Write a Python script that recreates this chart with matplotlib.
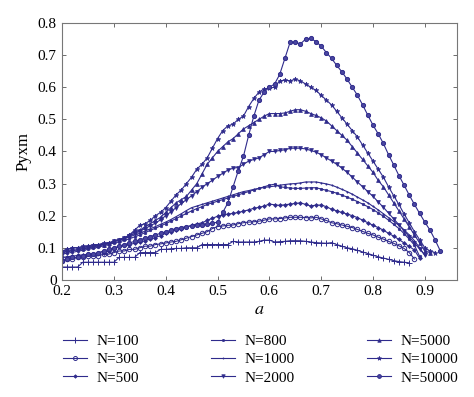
import numpy as np
import matplotlib
matplotlib.use("Agg")
import matplotlib.pyplot as plt

plt.rcParams['font.family'] = ['Liberation Serif', 'DejaVu Serif']
plt.rcParams['mathtext.fontset'] = 'stix'

x_start = 0.20
x_step = 0.01

n100 = [.04, .04, .04, .04, .055, .055, .055, .055, .055, .055, .055,
        .07, .07, .07, .07, .085, .085, .085, .085, .095, .095, .097, .098, .098,
        .10, .10, .10, .11, .11, .11, .11, .11, .11, .12, .118, .118, .118, .118,
        .12, .124, .124, .118, .119, .12, .122, .122, .122, .12, .118, .116, .115,
        .114, .116, .11, .105, .10, .097, .092, .087, .082, .077, .072, .068, .064,
        .06, .057, .055, .053]
n300 = [.06, .065, .065, .07, .07, .075, .075, .075, .08, .08, .085, .09, .09, .095,
        .095, .10, .105, .105, .11, .112, .115, .118, .12, .125, .13, .135, .14, .145,
        .15, .16, .166, .168, .17, .171, .175, .178, .18, .181, .183, .186, .19, .19,
        .191, .193, .195, .195, .195, .194, .193, .195, .19, .185, .178, .175, .171,
        .167, .163, .157, .151, .145, .14, .133, .127, .12, .114, .106, .098, .085, .065]
n500 = [.07, .072, .074, .076, .078, .08, .082, .083, .085, .09, .095, .105, .108, .11,
        .114, .118, .122, .127, .132, .138, .145, .15, .155, .16, .165, .17, .174, .178,
        .185, .192, .198, .202, .205, .207, .21, .214, .218, .223, .226, .23, .236, .234,
        .232, .234, .236, .238, .24, .235, .23, .233, .233, .228, .22, .215, .21, .205,
        .2, .194, .186, .178, .17, .163, .155, .145, .136, .126, .115, .104, .093, .067]
n800 = [.08, .083, .086, .089, .092, .095, .098, .102, .106, .11, .115, .119, .123, .128,
        .134, .14, .147, .154, .161, .168, .175, .183, .191, .199, .207, .215, .222, .228,
        .235, .24, .245, .25, .255, .26, .265, .27, .275, .28, .285, .29, .295, .298, .29,
        .288, .286, .285, .285, .286, .287, .287, .283, .279, .275, .27, .264, .258, .251,
        .244, .236, .228, .219, .209, .198, .186, .173, .16, .144, .127, .108, .073]
n1000 = [.085, .088, .091, .094, .097, .1, .103, .107, .111, .115, .12, .124, .128, .134,
         .14, .145, .152, .159, .166, .173, .18, .188, .197, .206, .216, .225, .23, .235,
         .24, .245, .25, .255, .26, .265, .27, .275, .278, .282, .285, .288, .29, .292,
         .295, .297, .299, .30, .302, .305, .305, .305, .302, .299, .295, .289, .282, .275,
         .267, .258, .249, .24, .229, .218, .206, .194, .182, .17, .156, .14, .122, .1, .076]
n2000 = [.085, .088, .091, .094, .097, .1, .103, .106, .109, .113, .12, .125, .13, .137,
         .145, .152, .16, .168, .177, .187, .2, .212, .225, .238, .25, .262, .275, .288,
         .3, .31, .322, .332, .342, .348, .35, .36, .37, .375, .38, .39, .40, .40, .403,
         .405, .41, .41, .41, .408, .403, .398, .39, .38, .37, .36, .348, .335, .32, .305,
         .29, .275, .26, .243, .226, .208, .19, .172, .153, .134, .115, .096, .078]
n5000 = [.09, .095, .1, .1, .1, .105, .105, .11, .11, .115, .12, .125, .13, .14, .15,
         .155, .165, .175, .185, .195, .21, .225, .24, .25, .26, .28, .3, .33, .36, .38,
         .40, .415, .43, .44, .455, .47, .48, .49, .5, .51, .518, .518, .518, .52, .525,
         .53, .53, .525, .518, .512, .505, .495, .48, .465, .45, .435, .415, .395, .375,
         .355, .335, .31, .29, .265, .24, .215, .19, .165, .14, .115, .09, .085]
n10000 = [.09, .095, .1, .1, .105, .105, .11, .11, .115, .115, .12, .125, .13, .14, .155,
          .17, .175, .185, .2, .21, .225, .245, .265, .28, .3, .32, .345, .36, .38, .41,
          .44, .465, .48, .485, .5, .51, .54, .565, .585, .595, .597, .6, .62, .622, .62,
          .625, .62, .61, .6, .59, .575, .56, .545, .525, .505, .485, .465, .445, .42,
          .395, .37, .345, .32, .29, .262, .235, .205, .178, .15, .125, .1, .09, .085]
n50000 = [.06, .065, .07, .07, .075, .08, .08, .085, .09, .095, .1, .105, .11, .115, .12,
          .125, .13, .135, .14, .145, .15, .155, .16, .163, .166, .168, .17, .172, .174,
          .176, .18, .21, .24, .29, .34, .385, .45, .51, .56, .585, .6, .61, .64, .69, .74,
          .74, .735, .75, .752, .742, .728, .708, .69, .668, .648, .625, .6, .575, .545,
          .513, .482, .455, .425, .39, .358, .325, .295, .264, .235, .207, .18, .155, .124, .09]

labels = ['N=100', 'N=300', 'N=500', 'N=800', 'N=1000', 'N=2000',
          'N=5000', 'N=10000', 'N=50000']
series = [n100, n300, n500, n800, n1000, n2000, n5000, n10000, n50000]
x_ticks = [0.2, 0.3, 0.4, 0.5, 0.6, 0.7, 0.8, 0.9]
y_ticks = [0, 0.1, 0.2, 0.3, 0.4, 0.5, 0.6, 0.7, 0.8]

color = '#2f2b8c'
styles = [
    dict(marker='+', ms=4.5, mfc=color, mew=0.7),
    dict(marker='o', ms=3.2, mfc='none', mew=0.7),
    dict(marker='D', ms=2.0, mfc=color, mew=0.5),
    dict(marker='o', ms=1.8, mfc=color, mew=0.5),
    dict(marker='.', ms=2.0, mfc=color, mew=0.4),
    dict(marker='v', ms=2.8, mfc=color, mew=0.5),
    dict(marker='^', ms=2.8, mfc=color, mew=0.5),
    dict(marker='*', ms=3.5, mfc=color, mew=0.5),
    dict(marker='o', ms=3.0, mfc='#4a46a0', mew=0.7),
]

fig = plt.figure(figsize=(4.74, 3.97), dpi=100)
ax = fig.add_axes([0.131, 0.295, 0.833, 0.647])

handles = []
for vals, lab, st in zip(series, labels, styles):
    xs = x_start + x_step * np.arange(len(vals))
    h, = ax.plot(xs, vals, color=color, lw=0.8, mec=color, label=lab, **st)
    handles.append(h)

ax.set_xlim(0.2, 0.962)
ax.set_ylim(0, 0.8)
ax.set_xticks(x_ticks)
ax.set_xticklabels([f'{t:g}' for t in x_ticks])
ax.set_yticks(y_ticks)
ax.set_yticklabels([f'{t:g}' for t in y_ticks])
ax.tick_params(direction='in', top=True, right=True, labelsize=11, length=3,
               width=0.6, color='#555555', pad=4)
for sp in ax.spines.values():
    sp.set_color('#777777')
    sp.set_linewidth(0.8)
ax.set_xlabel('$a$', fontsize=13, labelpad=2)
ax.set_ylabel('Pyxm', fontsize=12, labelpad=4)

fig.legend(handles=handles, labels=labels, ncol=3, loc='upper left',
           bbox_to_anchor=(0.133, 0.158), frameon=False, fontsize=11,
           borderpad=0, borderaxespad=0,
           handlelength=1.6, columnspacing=4.7, labelspacing=0.3,
           handletextpad=0.6, markerscale=0.9)

fig.savefig('out.png', dpi=100)
